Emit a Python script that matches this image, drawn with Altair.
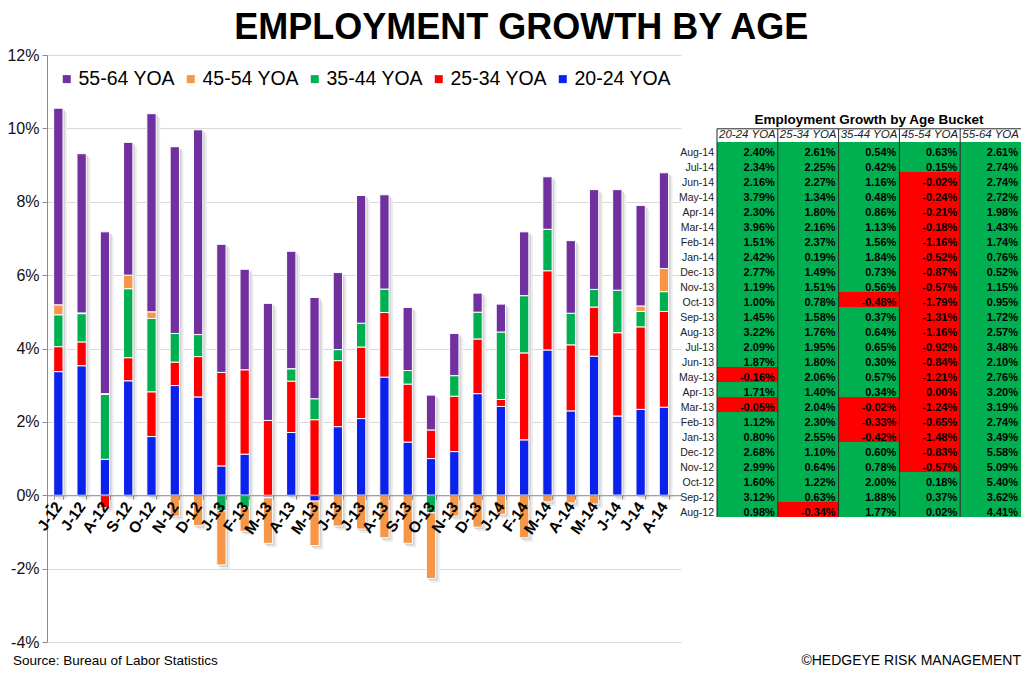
import altair as alt
import pandas as pd

# Monthly year-over-year employment growth (%) by age bucket
months = ["Jun-12", "Jul-12", "Aug-12", "Sep-12", "Oct-12", "Nov-12", "Dec-12",
          "Jan-13", "Feb-13", "Mar-13", "Apr-13", "May-13", "Jun-13", "Jul-13",
          "Aug-13", "Sep-13", "Oct-13", "Nov-13", "Dec-13", "Jan-14", "Feb-14",
          "Mar-14", "Apr-14", "May-14", "Jun-14", "Jul-14", "Aug-14"]

groups = ["20-24 YOA", "25-34 YOA", "35-44 YOA", "45-54 YOA", "55-64 YOA"]

age_20_24 = [3.37, 3.53, 0.98, 3.12, 1.60, 2.99, 2.68, 0.80, 1.12, -0.05, 1.71, -0.16, 1.87, 2.09,
             3.22, 1.45, 1.00, 1.19, 2.77, 2.42, 1.51, 3.96, 2.30, 3.79, 2.16, 2.34, 2.40]
age_25_34 = [0.68, 0.65, -0.34, 0.63, 1.22, 0.64, 1.10, 2.55, 2.30, 2.04, 1.40, 2.06, 1.80, 1.95,
             1.76, 1.58, 0.78, 1.51, 1.49, 0.19, 2.37, 2.16, 1.80, 1.34, 2.27, 2.25, 2.61]
age_35_44 = [0.87, 0.77, 1.77, 1.88, 2.00, 0.78, 0.60, -0.42, -0.33, -0.02, 0.34, 0.57, 0.30, 0.65,
             0.64, 0.37, -0.48, 0.56, 0.73, 1.84, 1.56, 1.13, 0.86, 0.48, 1.16, 0.42, 0.54]
age_45_54 = [0.27, 0.02, 0.02, 0.37, 0.18, -0.57, -0.83, -1.48, -0.65, -1.24, 0.00, -1.21, -0.84, -0.92,
             -1.16, -1.31, -1.79, -0.57, -0.87, -0.52, -1.16, -0.18, -0.21, -0.24, -0.02, 0.15, 0.63]
age_55_64 = [5.36, 4.34, 4.41, 3.62, 5.40, 5.09, 5.58, 3.49, 2.74, 3.19, 3.20, 2.76, 2.10, 3.48,
             2.57, 1.72, 0.95, 1.15, 0.52, 0.76, 1.74, 1.43, 1.98, 2.72, 2.74, 2.74, 2.61]

series = dict(zip(groups, [age_20_24, age_25_34, age_35_44, age_45_54, age_55_64]))
group_colors = {"20-24 YOA": "#0A22EC", "25-34 YOA": "#FF0000", "35-44 YOA": "#00B050",
                "45-54 YOA": "#F79646", "55-64 YOA": "#7030A0"}
legend_order = groups[::-1]

table_months = months[2:][::-1]   # Aug-14 on top, Aug-12 at the bottom

source_note = "Source: Bureau of Labor Statistics"
credit_note = "\u00a9HEDGEYE RISK MANAGEMENT"
chart_title = "EMPLOYMENT GROWTH BY AGE"
table_title = "Employment Growth by Age Bucket"

SANS = "Liberation Sans, Arial, sans-serif"

# ---------- long tables ----------
long_rows = []
for g_i, g in enumerate(groups):
    for m, v in zip(months, series[g]):
        long_rows.append({"month": m, "group": g, "value": v, "rank": g_i})
long_df = pd.DataFrame(long_rows)

cell_rows = []
for r_i, m in enumerate(table_months):
    for c_i, g in enumerate(groups):
        cell_rows.append({"month": m, "group": g, "value": series[g][months.index(m)],
                          "c0": c_i, "c1": c_i + 1, "r0": r_i, "r1": r_i + 1})
cell_df = pd.DataFrame(cell_rows)

# ---------- stacked bar panel ----------
W, H = 634, 587
Y_MIN, Y_MAX = -4, 12
zero_offset = -H * (0 - Y_MIN) / (Y_MAX - Y_MIN)

x_enc = alt.X(
    "month:N", sort=months,
    scale=alt.Scale(paddingInner=0.6, paddingOuter=0.41, align=0.35),
    axis=alt.Axis(
        title=None, offset=zero_offset, zindex=1,
        labelExpr="substring(datum.label, 0, 1) + '-' + substring(datum.label, 4)",
        labelAngle=-55, labelAlign="right", labelBaseline="middle",
        labelFont=SANS, labelFontWeight="bold", labelFontSize=15.5, labelColor="#000000",
        labelPadding=4, tickBand="extent", tickSize=4, tickColor="#8c8c8c",
        domainColor="#8c8c8c", labelOverlap=False,
    ),
)
y_scale = alt.Scale(domain=[Y_MIN, Y_MAX], nice=False)
y_axis = alt.Axis(
    title=None, values=list(range(Y_MIN, Y_MAX + 1, 2)), labelExpr="datum.value + '%'",
    grid=True, gridColor="#d9d9d9", domainColor="#8c8c8c", tickColor="#8c8c8c",
    tickSize=5, labelFont=SANS, labelFontSize=16, labelColor="#111111", labelPadding=3,
)

base = alt.Chart(long_df)

shadow_src = base.transform_calculate(
    pos="max(datum.value, 0)", neg="min(datum.value, 0)"
).transform_aggregate(pos="sum(pos)", neg="sum(neg)", groupby=["month"])

shadows = []
for off, col in [(4, "#ececec"), (2, "#d2d2d2")]:
    for fld in ["pos", "neg"]:
        shadows.append(
            shadow_src.mark_bar(color=col, xOffset=off, yOffset=off, y2Offset=off).encode(
                x=x_enc, y=alt.Y(f"{fld}:Q", scale=y_scale, axis=y_axis)
            )
        )

bars = base.mark_bar(stroke="white", strokeWidth=1).encode(
    x=x_enc,
    y=alt.Y("value:Q", stack="zero", scale=y_scale, axis=y_axis),
    color=alt.Color(
        "group:N",
        scale=alt.Scale(domain=legend_order, range=[group_colors[g] for g in legend_order]),
        legend=alt.Legend(
            title=None, orient="none", legendX=10, legendY=14, direction="horizontal",
            symbolType="square", symbolSize=64, symbolStrokeWidth=0, symbolOpacity=1,
            labelFont=SANS, labelFontSize=19.5, labelColor="#000000", labelOffset=2,
            columnPadding=6, labelLimit=200,
        ),
    ),
    order=alt.Order("rank:Q", sort="ascending"),
)

source_text = alt.Chart(pd.DataFrame({"t": [source_note]})).mark_text(
    align="left", baseline="middle", font=SANS, fontSize=13.5, color="#000000"
).encode(x=alt.value(-34), y=alt.value(606), text="t:N")

bar_panel = alt.layer(*shadows, bars, source_text).properties(width=W, height=H)

# ---------- table panel ----------
TW = 304
ROW_H = 15.0
rows_above = 87.0 / ROW_H
tx = alt.Scale(domain=[0, 5], nice=False, zero=False)
ty = alt.Scale(domain=[-rows_above, -rows_above + H / ROW_H], nice=False, zero=False, reverse=True)
HEADER_TOP = -0.88

pct_label = ("(datum.value < 0 ? '-' : '') + format(abs(datum.value), '.2f') + '%'")

cells = alt.Chart(cell_df).mark_rect().encode(
    x=alt.X("c0:Q", scale=tx, axis=None), x2="c1:Q",
    y=alt.Y("r0:Q", scale=ty, axis=None), y2="r1:Q",
    color=alt.condition("datum.value <= 0", alt.value("#FF0000"), alt.value("#00B050")),
)

cell_text = alt.Chart(cell_df).transform_calculate(
    label=pct_label, ty="datum.r0 + 0.72"
).mark_text(align="right", baseline="middle", dx=-3, font=SANS, fontSize=11,
            fontWeight="bold", color="#000000").encode(
    x=alt.X("c1:Q", scale=tx, axis=None), y=alt.Y("ty:Q", scale=ty, axis=None), text="label:N"
)

row_df = pd.DataFrame({"month": table_months, "r0": range(len(table_months))})
row_text = alt.Chart(row_df).transform_calculate(
    lx="0", ty="datum.r0 + 0.72"
).mark_text(align="right", baseline="middle", dx=-3, font=SANS, fontSize=10.5,
            color="#222222").encode(
    x=alt.X("lx:Q", scale=tx, axis=None), y=alt.Y("ty:Q", scale=ty, axis=None), text="month:N"
)

head_df = pd.DataFrame({"group": groups, "c": range(len(groups))})
head_text = alt.Chart(head_df).transform_calculate(
    cx="datum.c + 0.5", cy=f"{HEADER_TOP / 2}"
).mark_text(align="center", baseline="middle", font=SANS, fontSize=11.5,
            fontStyle="italic", color="#222222").encode(
    x=alt.X("cx:Q", scale=tx, axis=None), y=alt.Y("cy:Q", scale=ty, axis=None), text="group:N"
)

vline_df = pd.DataFrame({"c": list(range(len(groups))),
                         "top": HEADER_TOP, "bottom": len(table_months)})
vlines = alt.Chart(vline_df).mark_rule(color="#262626", strokeWidth=1).encode(
    x=alt.X("c:Q", scale=tx, axis=None),
    y=alt.Y("top:Q", scale=ty, axis=None), y2="bottom:Q",
)
hline = alt.Chart(pd.DataFrame({"a": [0], "b": [len(groups)], "y": [HEADER_TOP]})).mark_rule(
    color="#262626", strokeWidth=1
).encode(x=alt.X("a:Q", scale=tx, axis=None), x2="b:Q", y=alt.Y("y:Q", scale=ty, axis=None))

title_text = alt.Chart(pd.DataFrame({"t": [table_title], "x": [2.5], "y": [-1.47]})).mark_text(
    align="center", baseline="middle", font=SANS, fontSize=13.5, fontWeight="bold", color="#000000"
).encode(x=alt.X("x:Q", scale=tx, axis=None), y=alt.Y("y:Q", scale=ty, axis=None), text="t:N")

credit_text = alt.Chart(pd.DataFrame({"t": [credit_note]})).mark_text(
    align="right", baseline="middle", font=SANS, fontSize=14, color="#000000"
).encode(x=alt.value(TW), y=alt.value(606), text="t:N")

table_panel = alt.layer(cells, vlines, hline, cell_text, row_text, head_text, title_text,
                        credit_text).properties(width=TW, height=H)

chart = alt.hconcat(bar_panel, table_panel, spacing=36, bounds="flush").properties(
    title=alt.TitleParams(chart_title, font=SANS, fontSize=36, fontWeight="bold",
                          color="#000000", anchor="middle", offset=0, dx=7),
    padding={"left": 6, "top": 10, "right": 0, "bottom": 0},
).configure_view(stroke=None).resolve_scale(x="independent", y="independent")

chart.save("out.html", embed_options={"renderer": "svg", "actions": False})
